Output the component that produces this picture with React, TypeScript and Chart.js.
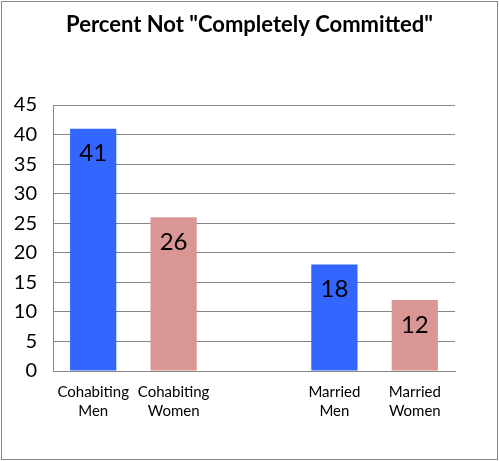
import { useEffect, useRef } from "react";
import { Chart, registerables, type ChartConfiguration, type Plugin } from "chart.js";

Chart.register(...registerables);

const TITLE = 'Percent Not "Completely Committed"';
const CATEGORIES: (string | string[])[] = [
  ["Cohabiting", "Men"],
  ["Cohabiting", "Women"],
  "",
  ["Married", "Men"],
  ["Married", "Women"],
];
const VALUES: (number | null)[] = [41, 26, null, 18, 12];
const BAR_COLORS = ["#3366FF", "#D99694", "#3366FF", "#3366FF", "#D99694"];
const Y_TICKS = [0, 5, 10, 15, 20, 25, 30, 35, 40, 45];

const FONT = "Lato, 'Open Sans', sans-serif";

// value labels inside the top of each bar
const valueLabels: Plugin<"bar"> = {
  id: "valueLabels",
  afterDatasetsDraw(chart) {
    const { ctx } = chart;
    const meta = chart.getDatasetMeta(0);
    ctx.save();
    ctx.font = `24px ${FONT}`;
    ctx.fillStyle = "#000";
    ctx.textAlign = "center";
    ctx.textBaseline = "middle";
    meta.data.forEach((el, i) => {
      const v = VALUES[i];
      if (v == null) return;
      ctx.fillText(String(v), el.x, el.y + 25);
    });
    ctx.restore();
  },
};

// title centred on the canvas + grey frame round the whole chart
const frame: Plugin<"bar"> = {
  id: "frame",
  afterDraw(chart) {
    const { ctx, width, height } = chart;
    ctx.save();
    ctx.font = `bold 22px ${FONT}`;
    ctx.fillStyle = "#000";
    ctx.textAlign = "center";
    ctx.textBaseline = "middle";
    ctx.fillText(TITLE, width / 2, 25);
    ctx.strokeStyle = "#868686";
    ctx.lineWidth = 1;
    ctx.strokeRect(1.5, 1.5, width - 3, height - 3);
    ctx.restore();
  },
};

export default function App() {
  const canvasRef = useRef<HTMLCanvasElement>(null);
  const chartRef = useRef<Chart | null>(null);

  useEffect(() => {
    document.body.style.margin = "0";
    const ctx = canvasRef.current?.getContext("2d");
    if (!ctx) return;
    chartRef.current?.destroy();

    const config: ChartConfiguration<"bar"> = {
      type: "bar",
      data: {
        labels: CATEGORIES,
        datasets: [
          {
            data: VALUES,
            backgroundColor: BAR_COLORS,
            borderWidth: 0,
            categoryPercentage: 1,
            barPercentage: 0.575,
          },
        ],
      },
      options: {
        responsive: false,
        animation: false,
        layout: { padding: { left: 8, right: 44, top: 105, bottom: 0 } },
        plugins: {
          legend: { display: false },
          tooltip: { enabled: false },
          title: { display: false },
        },
        scales: {
          x: {
            grid: { display: false, drawTicks: false },
            border: { color: "#868686" },
            ticks: { color: "#000", font: { family: FONT, size: 15, lineHeight: 1.27 }, padding: 12, maxRotation: 0 },
            afterFit: (s) => {
              s.height = 90;
            },
          },
          y: {
            min: 0,
            max: 45,
            afterBuildTicks: (s) => {
              s.ticks = Y_TICKS.map((v) => ({ value: v }));
            },
            grid: { color: "#868686", drawTicks: false },
            border: { color: "#868686" },
            ticks: { color: "#000", font: { family: FONT, size: 20 }, padding: 16 },
            afterFit: (s) => {
              s.width = 45;
            },
          },
        },
      },
      plugins: [valueLabels, frame],
    };

    chartRef.current = new Chart(ctx, config);
    return () => chartRef.current?.destroy();
  }, []);

  return <canvas ref={canvasRef} width={499} height={461} style={{ display: "block" }} />;
}
